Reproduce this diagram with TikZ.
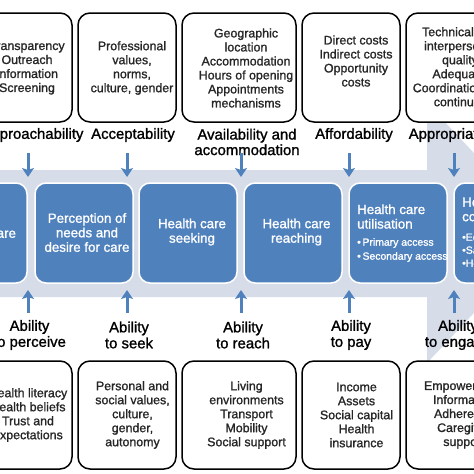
\documentclass[tikz,border=0pt]{standalone}
\usepackage{fontspec}
\setmainfont{Liberation Sans}[FakeBold=1.2]
\usetikzlibrary{arrows.meta}
\definecolor{hblue}{RGB}{79,129,189}
\definecolor{bandc}{RGB}{214,221,233}
\begin{document}
\begin{tikzpicture}[x=1pt,y=-1pt,
  outerbox/.style={draw=black, line width=1.5pt, rounded corners=12pt, fill=white, minimum height=109pt, inner sep=0pt},
  midbox/.style={draw=white, line width=1.5pt, rounded corners=11pt, fill=hblue, minimum height=100pt, minimum width=98pt, inner sep=0pt},
  txt/.style={font=\fontsize{12.4}{14}\selectfont, align=center, text=black!85, inner sep=0pt},
  lbl/.style={font=\fontsize{14.9}{15.5}\selectfont, align=center, text=black, inner sep=0pt},
  midtxt/.style={font=\fontsize{13.3}{14.5}\selectfont, align=center, text=white, inner sep=0pt},
  bultxt/.style={font=\fontsize{10.4}{14}\selectfont, align=left, text=white, inner sep=0pt, anchor=west},
  flow/.style={draw=hblue, line width=3pt, -{Stealth[length=9pt,width=12pt,inset=2pt]}}]
\useasboundingbox (0,0) rectangle (474,474);
\clip (0,0) rectangle (474,474);
\fill[white] (0,0) rectangle (474,474);
% big background arrow
\fill[bandc] (-10,170) -- (427,170) -- (427,103) -- (549,233) -- (427,363) -- (427,297) -- (-10,297) -- cycle;

% top boxes
\node[outerbox, minimum width=98pt] (t1) at (23,67.5) {};
\node[outerbox, minimum width=98pt] (t2) at (127,67.5) {};
\node[outerbox, minimum width=114pt] (t3) at (239,67.5) {};
\node[outerbox, minimum width=98pt] (t4) at (351,67.5) {};
\node[outerbox, minimum width=108pt] (t5) at (460,67.5) {};
\node[txt] (tt1) at (27,68) {Transparency\\Outreach\\Information\\Screening};
\node[txt] (tt2) at (132,68) {Professional\\values,\\norms,\\culture, gender};
\node[txt] (tt3) at (246,68) {Geographic\\location\\Accommodation\\Hours of opening\\Appointments\\mechanisms};
\node[txt] (tt4) at (356,61) {Direct costs\\Indirect costs\\Opportunity\\costs};
\node[txt] (tt5) at (460,68) {Technical and\\interpersonal\\quality\\Adequacy\\Coordination and\\continuity};

% top labels
\node[lbl] (l1) at (32.5,135) {Approachability};
\node[lbl] (l2) at (133,135) {Acceptability};
\node[lbl] (l3) at (247,142) {Availability and\\accommodation};
\node[lbl] (l4) at (354,135) {Affordability};
\node[lbl] (l5) at (463,135) {Appropriateness};

% middle boxes
\node[midbox] (m1) at (-22,233) {};
\node[midbox] (m2) at (84,233) {};
\node[midbox] (m3) at (188,233) {};
\node[midbox] (m4) at (293,233) {};
\node[midbox] (m5) at (398,233) {};
\node[midbox] (m6) at (503,233) {};
\node[midtxt] (mt1) at (-18,233) {Health care};
\node[midtxt] (mt2) at (87,232.5) {Perception of\\needs and\\desire for care};
\node[midtxt] (mt3) at (192,232) {Health care\\seeking};
\node[midtxt] (mt4) at (296.5,232) {Health care\\reaching};
\node[midtxt, align=left, anchor=west] (mt5) at (357,216.5) {Health care\\utilisation};
\node[bultxt] (mb5) at (357,250) {•\,Primary access\\•\,Secondary access};
\node[midtxt, align=left, anchor=west] (mt6) at (462,210.5) {Health care\\consequences};
\node[bultxt, font=\fontsize{10.4}{13}\selectfont] (mb6) at (462,250) {•Economic\\•Satisfaction\\•Health};

% arrows
\foreach \i/\x in {1/28,2/127,3/241,4/349,5/454} {
  \coordinate (ta\i) at (\x,153);
  \coordinate (tb\i) at (\x,177);
  \coordinate (ba\i) at (\x,313);
  \coordinate (bb\i) at (\x,290);
  \draw[flow] (ta\i) -- (tb\i);
  \draw[flow] (ba\i) -- (bb\i);
}

% bottom labels
\node[lbl, font=\fontsize{14.9}{16}\selectfont] (a1) at (29.5,335) {Ability\\to perceive};
\node[lbl, font=\fontsize{14.9}{16}\selectfont] (a2) at (129,335) {Ability\\to seek};
\node[lbl, font=\fontsize{14.9}{16}\selectfont] (a3) at (243,335) {Ability\\to reach};
\node[lbl, font=\fontsize{14.9}{16}\selectfont] (a4) at (351,335) {Ability\\to pay};
\node[lbl, font=\fontsize{14.9}{16}\selectfont] (a5) at (458,335) {Ability\\to engage};

% bottom boxes
\node[outerbox, minimum width=98pt, minimum height=108pt] (b1) at (23,415) {};
\node[outerbox, minimum width=98pt, minimum height=108pt] (b2) at (127,415) {};
\node[outerbox, minimum width=114pt, minimum height=108pt] (b3) at (239,415) {};
\node[outerbox, minimum width=98pt, minimum height=108pt] (b4) at (351,415) {};
\node[outerbox, minimum width=108pt, minimum height=108pt] (b5) at (460,415) {};
\node[txt] (bt1) at (28,415) {Health literacy\\Health beliefs\\Trust and\\expectations};
\node[txt] (bt2) at (132.5,415) {Personal and\\social values,\\culture,\\gender,\\autonomy};
\node[txt] (bt3) at (246.5,415) {Living\\environments\\Transport\\Mobility\\Social support};
\node[txt] (bt4) at (356.5,415) {Income\\Assets\\Social capital\\Health\\insurance};
\node[txt] (bt5) at (464,415) {Empowerment\\Information\\Adherence\\Caregiver\\support};
\end{tikzpicture}
\end{document}
